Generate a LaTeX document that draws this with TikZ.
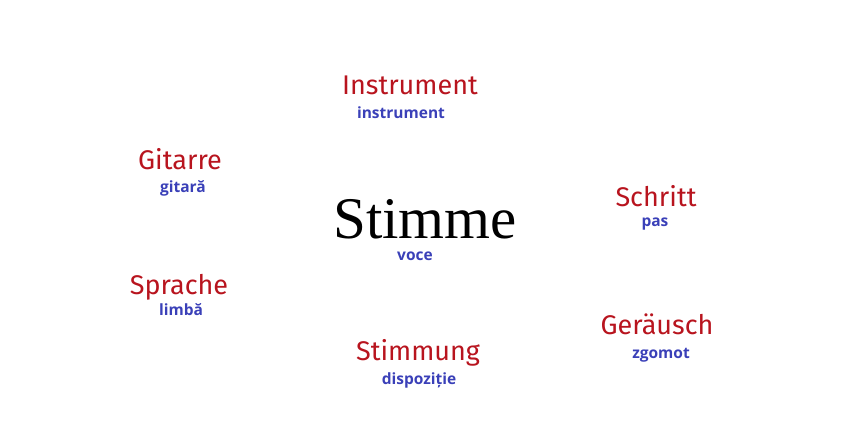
\documentclass[tikz,border=0pt]{standalone}
\usepackage{fontspec}
\newfontfamily\redfont{Fira Sans}
\newfontfamily\bluefont{Open Sans}[BoldFont={* Bold}]
\newfontfamily\mainserif{Liberation Serif}
\definecolor{wred}{HTML}{B8141E}
\definecolor{wblue}{HTML}{3A40B8}
\tikzset{
  de/.style={anchor=base, text=wred, inner sep=0pt, font=\redfont\fontsize{27}{27}\selectfont},
  ro/.style={anchor=base, text=wblue, inner sep=0pt, font=\bluefont\bfseries\fontsize{15.5}{15.5}\selectfont},
  main/.style={anchor=base, text=black, inner sep=0pt, text depth=0pt, font=\mainserif\fontsize{59}{59}\selectfont}
}
\begin{document}
\begin{tikzpicture}[x=1pt,y=-1pt]
\useasboundingbox (0,0) rectangle (850,442);
\node[main] (stimme) at (425,238) {Stimme};
\node[ro] (voce) at (415,260) {voce};
\node[de] (instr) at (410,94) {Instrument};
\node[ro] (instrro) at (401,118) {instrument};
\node[de] (gitarre) at (180,169) {Gitarre};
\node[ro] (gitara) at (183,192) {gitară};
\node[de] (schritt) at (656,206) {Schritt};
\node[ro] (pas) at (655,226) {pas};
\node[de] (sprache) at (179,294) {Sprache};
\node[ro] (limba) at (181,315) {limbă};
\node[de] (geraeusch) at (657,334) {Geräusch};
\node[ro] (zgomot) at (661,358) {zgomot};
\node[de] (stimmung) at (418,360) {Stimmung};
\node[ro] (dispozitie) at (419,384) {dispoziție};
\end{tikzpicture}
\end{document}
